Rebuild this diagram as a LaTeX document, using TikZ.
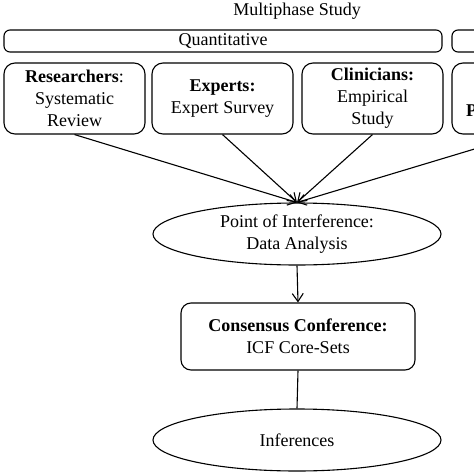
\documentclass[tikz,border=0pt]{standalone}
\usepackage{fontspec}
\setmainfont{Liberation Serif}
\usetikzlibrary{arrows.meta,shapes.geometric}
\begin{document}
\begin{tikzpicture}[x=1pt,y=-1pt,
  font=\fontsize{18}{22}\selectfont,
  bar/.style={draw, line width=1.1pt, rounded corners=6pt, minimum height=22pt, inner sep=0pt},
  src/.style={draw, line width=1.1pt, rounded corners=11pt, minimum width=141pt, minimum height=71pt, align=center, inner sep=0pt},
  oval/.style={draw, ellipse, line width=1.1pt, minimum width=288pt, minimum height=62pt, align=center, inner sep=0pt},
  midbox/.style={draw, line width=1.1pt, rounded corners=10pt, minimum width=234pt, minimum height=67pt, align=center, inner sep=0pt},
  conn/.style={line width=1.1pt},
  arr/.style={conn, -{Straight Barb[length=8pt,width=11pt]}}]
\useasboundingbox (0,0) rectangle (474,474);
\clip (0,0) rectangle (474,474);

\node (title) at (297,11) {Multiphase Study};
\node[bar, minimum width=438pt] (quant) at (223,41) {Quantitative};
\node[bar, minimum width=148pt] (qual) at (526,41) {};

\node[src] (b1) at (74.5,98.5) {\textbf{Researchers}:\\Systematic\\Review};
\node[src] (b2) at (222.5,98.5) {\textbf{Experts:}\\Expert Survey};
\node[src] (b3) at (372.5,98.5) {\textbf{Clinicians:}\\Empirical\\Study};
\node[src] (b4) at (522.5,98.5) {};
\node[anchor=west, inner sep=0pt] (p4) at (466,111) {\textbf{P}};

\node[oval] (e1) at (297,234) {Point of Interference:\\Data Analysis};
\node[midbox] (c) at (298,336.5) {\textbf{Consensus Conference:}\\ICF Core-Sets};
\node[oval] (e2) at (297,440) {Inferences};

\draw[arr] (b1.south) -- (e1.north);
\draw[arr] (b2.south) -- (e1.north);
\draw[arr] (b3.south) -- (e1.north);
\draw[arr] (b4.south) -- (e1.north);
\draw[arr] (e1.south) -- (c.north);
\draw[conn] (c.south) -- (e2.north);
\end{tikzpicture}
\end{document}
